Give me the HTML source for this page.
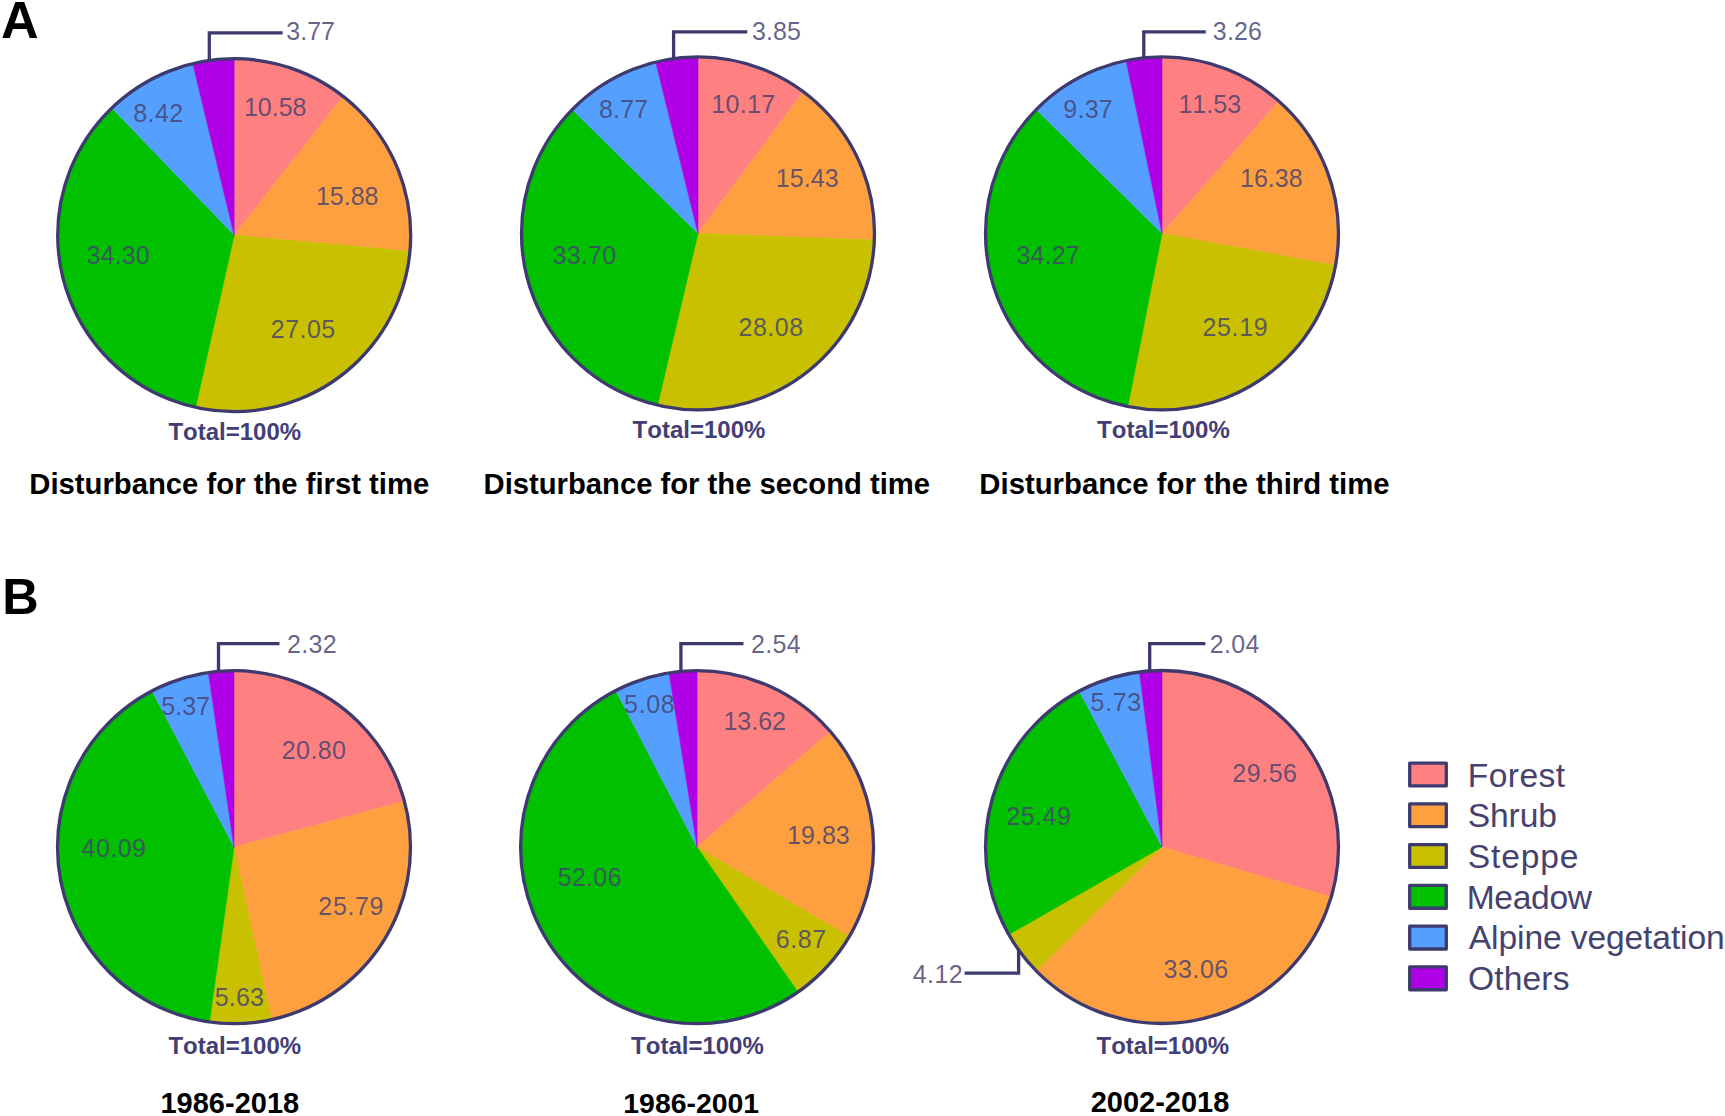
<!DOCTYPE html>
<html><head><meta charset="utf-8"><title>Figure</title>
<style>
html,body{margin:0;padding:0;background:#fff;}
body{width:1725px;height:1116px;overflow:hidden;}
svg{display:block;font-family:"Liberation Sans",sans-serif;font-kerning:none;}
.v{font-size:25px;fill:#45426f;fill-opacity:.82;}
.tot{font-size:24px;font-weight:bold;fill:#433e76;}
.ttl{font-weight:bold;fill:#000;}
.lg{font-size:33.6px;fill:#45426f;}
.pan{font-size:52px;font-weight:bold;fill:#000;}
.ld{fill:none;stroke:#3d3a70;stroke-width:3.3;}
</style></head><body>
<svg width="1725" height="1116" viewBox="0 0 1725 1116">
<rect width="1725" height="1116" fill="#fff"/>
<path d="M234.2,235.2L234.20,58.70A176.5,176.5 0 0 1 343.08,96.28Z" fill="#ff8080" stroke="#ff8080" stroke-width="0.6"/>
<path d="M234.2,235.2L343.08,96.28A176.5,176.5 0 0 1 409.96,251.37Z" fill="#ffa040" stroke="#ffa040" stroke-width="0.6"/>
<path d="M234.2,235.2L409.96,251.37A176.5,176.5 0 0 1 195.59,407.43Z" fill="#c8c000" stroke="#c8c000" stroke-width="0.6"/>
<path d="M234.2,235.2L195.59,407.43A176.5,176.5 0 0 1 111.85,107.99Z" fill="#00c000" stroke="#00c000" stroke-width="0.6"/>
<path d="M234.2,235.2L111.85,107.99A176.5,176.5 0 0 1 192.78,63.63Z" fill="#55a0ff" stroke="#55a0ff" stroke-width="0.6"/>
<path d="M234.2,235.2L192.78,63.63A176.5,176.5 0 0 1 234.20,58.70Z" fill="#b000e6" stroke="#b000e6" stroke-width="0.6"/>
<polyline class="ld" points="209.3,60 209.3,32.8 282.6,32.8"/>
<circle cx="234.2" cy="235.2" r="176.5" fill="none" stroke="#3d3a70" stroke-width="3.3"/>
<text x="243.89" y="116.4" class="v" letter-spacing="0.01">10.58</text>
<text x="315.96" y="204.6" class="v" letter-spacing="0.0">15.88</text>
<text x="270.74" y="337.5" class="v" letter-spacing="0.49">27.05</text>
<text x="86.45" y="263.8" class="v" letter-spacing="0.19">34.30</text>
<text x="133.32" y="121.5" class="v" letter-spacing="0.36">8.42</text>
<text x="286.37" y="40.0" class="v" letter-spacing="0.0">3.77</text>
<text x="168.42" y="439.9" class="tot">Total=100%</text>
<text x="29.26" y="494.1" class="ttl" font-size="29.28">Disturbance for the first time</text>
<path d="M698.0,233.4L698.00,56.90A176.5,176.5 0 0 1 803.26,91.72Z" fill="#ff8080" stroke="#ff8080" stroke-width="0.6"/>
<path d="M698.0,233.4L803.26,91.72A176.5,176.5 0 0 1 874.37,240.05Z" fill="#ffa040" stroke="#ffa040" stroke-width="0.6"/>
<path d="M698.0,233.4L874.37,240.05A176.5,176.5 0 0 1 657.55,405.20Z" fill="#c8c000" stroke="#c8c000" stroke-width="0.6"/>
<path d="M698.0,233.4L657.55,405.20A176.5,176.5 0 0 1 572.26,109.54Z" fill="#00c000" stroke="#00c000" stroke-width="0.6"/>
<path d="M698.0,233.4L572.26,109.54A176.5,176.5 0 0 1 655.72,62.04Z" fill="#55a0ff" stroke="#55a0ff" stroke-width="0.6"/>
<path d="M698.0,233.4L655.72,62.04A176.5,176.5 0 0 1 698.00,56.90Z" fill="#b000e6" stroke="#b000e6" stroke-width="0.6"/>
<polyline class="ld" points="673.6,58 673.6,31.9 747.3,31.9"/>
<circle cx="698.0" cy="233.4" r="176.5" fill="none" stroke="#3d3a70" stroke-width="3.3"/>
<text x="711.30" y="112.7" class="v" letter-spacing="0.3">10.17</text>
<text x="775.69" y="187.3" class="v" letter-spacing="0.09">15.43</text>
<text x="738.53" y="336.1" class="v" letter-spacing="0.5">28.08</text>
<text x="552.55" y="263.8" class="v" letter-spacing="0.24">33.70</text>
<text x="599.01" y="118.0" class="v" letter-spacing="0.2">8.77</text>
<text x="751.96" y="39.7" class="v" letter-spacing="0.11">3.85</text>
<text x="632.62" y="437.8" class="tot">Total=100%</text>
<text x="483.57" y="493.7" class="ttl" font-size="29.22">Disturbance for the second time</text>
<path d="M1162.0,233.4L1162.00,56.90A176.5,176.5 0 0 1 1278.97,101.23Z" fill="#ff8080" stroke="#ff8080" stroke-width="0.6"/>
<path d="M1162.0,233.4L1278.97,101.23A176.5,176.5 0 0 1 1335.56,265.49Z" fill="#ffa040" stroke="#ffa040" stroke-width="0.6"/>
<path d="M1162.0,233.4L1335.56,265.49A176.5,176.5 0 0 1 1127.84,406.56Z" fill="#c8c000" stroke="#c8c000" stroke-width="0.6"/>
<path d="M1162.0,233.4L1127.84,406.56A176.5,176.5 0 0 1 1036.18,109.62Z" fill="#00c000" stroke="#00c000" stroke-width="0.6"/>
<path d="M1162.0,233.4L1036.18,109.62A176.5,176.5 0 0 1 1126.10,60.59Z" fill="#55a0ff" stroke="#55a0ff" stroke-width="0.6"/>
<path d="M1162.0,233.4L1126.10,60.59A176.5,176.5 0 0 1 1162.00,56.90Z" fill="#b000e6" stroke="#b000e6" stroke-width="0.6"/>
<polyline class="ld" points="1143.8,58 1143.8,31.9 1205.8,31.9"/>
<circle cx="1162.0" cy="233.4" r="176.5" fill="none" stroke="#3d3a70" stroke-width="3.3"/>
<text x="1178.47" y="112.7" class="v" letter-spacing="0.0">11.53</text>
<text x="1240.06" y="187.3" class="v" letter-spacing="0.0">16.38</text>
<text x="1202.54" y="336.1" class="v" letter-spacing="0.62">25.19</text>
<text x="1016.55" y="263.8" class="v" letter-spacing="0.16">34.27</text>
<text x="1063.32" y="118.0" class="v" letter-spacing="0.26">9.37</text>
<text x="1212.85" y="39.7" class="v" letter-spacing="0.13">3.26</text>
<text x="1097.07" y="437.8" class="tot">Total=100%</text>
<text x="979.35" y="493.7" class="ttl" font-size="29.3">Disturbance for the third time</text>
<path d="M234.0,847.2L234.00,670.70A176.5,176.5 0 0 1 404.39,801.16Z" fill="#ff8080" stroke="#ff8080" stroke-width="0.6"/>
<path d="M234.0,847.2L404.39,801.16A176.5,176.5 0 0 1 271.53,1019.66Z" fill="#ffa040" stroke="#ffa040" stroke-width="0.6"/>
<path d="M234.0,847.2L271.53,1019.66A176.5,176.5 0 0 1 209.46,1021.99Z" fill="#c8c000" stroke="#c8c000" stroke-width="0.6"/>
<path d="M234.0,847.2L209.46,1021.99A176.5,176.5 0 0 1 152.00,690.91Z" fill="#00c000" stroke="#00c000" stroke-width="0.6"/>
<path d="M234.0,847.2L152.00,690.91A176.5,176.5 0 0 1 208.36,672.57Z" fill="#55a0ff" stroke="#55a0ff" stroke-width="0.6"/>
<path d="M234.0,847.2L208.36,672.57A176.5,176.5 0 0 1 234.00,670.70Z" fill="#b000e6" stroke="#b000e6" stroke-width="0.6"/>
<polyline class="ld" points="218.5,672 218.5,643.7 279.5,643.7"/>
<circle cx="234.0" cy="847.2" r="176.5" fill="none" stroke="#3d3a70" stroke-width="3.3"/>
<text x="281.84" y="759.0" class="v" letter-spacing="0.37">20.80</text>
<text x="318.33" y="914.5" class="v" letter-spacing="0.65">25.79</text>
<text x="214.80" y="1006.0" class="v" letter-spacing="0.15">5.63</text>
<text x="81.62" y="857.3" class="v" letter-spacing="0.45">40.09</text>
<text x="161.20" y="715.2" class="v" letter-spacing="0.1">5.37</text>
<text x="287.05" y="652.5" class="v" letter-spacing="0.35">2.32</text>
<text x="168.42" y="1054.0" class="tot">Total=100%</text>
<text x="160.49" y="1112.5" class="ttl" font-size="29.0">1986-2018</text>
<path d="M697.1,847.2L697.10,670.70A176.5,176.5 0 0 1 830.37,731.48Z" fill="#ff8080" stroke="#ff8080" stroke-width="0.6"/>
<path d="M697.1,847.2L830.37,731.48A176.5,176.5 0 0 1 849.30,936.57Z" fill="#ffa040" stroke="#ffa040" stroke-width="0.6"/>
<path d="M697.1,847.2L849.30,936.57A176.5,176.5 0 0 1 797.95,992.05Z" fill="#c8c000" stroke="#c8c000" stroke-width="0.6"/>
<path d="M697.1,847.2L797.95,992.05A176.5,176.5 0 1 1 615.79,690.55Z" fill="#00c000" stroke="#00c000" stroke-width="0.6"/>
<path d="M697.1,847.2L615.79,690.55A176.5,176.5 0 0 1 669.05,672.94Z" fill="#55a0ff" stroke="#55a0ff" stroke-width="0.6"/>
<path d="M697.1,847.2L669.05,672.94A176.5,176.5 0 0 1 697.10,670.70Z" fill="#b000e6" stroke="#b000e6" stroke-width="0.6"/>
<polyline class="ld" points="680.9,672 680.9,643.7 743.5,643.7"/>
<circle cx="697.1" cy="847.2" r="176.5" fill="none" stroke="#3d3a70" stroke-width="3.3"/>
<text x="723.40" y="730.4" class="v" letter-spacing="0.0">13.62</text>
<text x="787.10" y="843.6" class="v" letter-spacing="0.01">19.83</text>
<text x="775.63" y="948.0" class="v" letter-spacing="0.66">6.87</text>
<text x="557.71" y="885.9" class="v" letter-spacing="0.28">52.06</text>
<text x="624.10" y="712.7" class="v" letter-spacing="0.64">5.08</text>
<text x="751.04" y="652.5" class="v" letter-spacing="0.31">2.54</text>
<text x="631.07" y="1054.0" class="tot">Total=100%</text>
<text x="623.34" y="1112.6" class="ttl" font-size="28.4">1986-2001</text>
<path d="M1162.0,847.0L1162.00,670.50A176.5,176.5 0 0 1 1331.30,896.88Z" fill="#ff8080" stroke="#ff8080" stroke-width="0.6"/>
<path d="M1162.0,847.0L1331.30,896.88A176.5,176.5 0 0 1 1036.26,970.86Z" fill="#ffa040" stroke="#ffa040" stroke-width="0.6"/>
<path d="M1162.0,847.0L1036.26,970.86A176.5,176.5 0 0 1 1008.74,934.54Z" fill="#c8c000" stroke="#c8c000" stroke-width="0.6"/>
<path d="M1162.0,847.0L1008.74,934.54A176.5,176.5 0 0 1 1079.21,691.12Z" fill="#00c000" stroke="#00c000" stroke-width="0.6"/>
<path d="M1162.0,847.0L1079.21,691.12A176.5,176.5 0 0 1 1139.44,671.95Z" fill="#55a0ff" stroke="#55a0ff" stroke-width="0.6"/>
<path d="M1162.0,847.0L1139.44,671.95A176.5,176.5 0 0 1 1162.00,670.50Z" fill="#b000e6" stroke="#b000e6" stroke-width="0.6"/>
<polyline class="ld" points="1149.7,672 1149.7,643.7 1205.4,643.7"/>
<polyline class="ld" points="964.6,973.2 1018.6,973.2 1018.6,949"/>
<circle cx="1162.0" cy="847.0" r="176.5" fill="none" stroke="#3d3a70" stroke-width="3.3"/>
<text x="1232.35" y="781.6" class="v" letter-spacing="0.52">29.56</text>
<text x="1163.45" y="978.4" class="v" letter-spacing="0.57">33.06</text>
<text x="912.72" y="982.7" class="v" letter-spacing="0.46">4.12</text>
<text x="1006.24" y="825.4" class="v" letter-spacing="0.52">25.49</text>
<text x="1090.60" y="711.0" class="v" letter-spacing="0.65">5.73</text>
<text x="1209.84" y="652.5" class="v" letter-spacing="0.31">2.04</text>
<text x="1096.47" y="1054.0" class="tot">Total=100%</text>
<text x="1090.70" y="1112.1" class="ttl" font-size="29.0">2002-2018</text>
<rect x="1409.7" y="763.05" width="36.6" height="22.9" fill="#ff8080" stroke="#3d3a70" stroke-width="3.3" stroke-linejoin="round"/>
<text x="1467.73" y="786.6" class="lg" letter-spacing="0.44">Forest</text>
<rect x="1409.7" y="803.81" width="36.6" height="22.9" fill="#ffa040" stroke="#3d3a70" stroke-width="3.3" stroke-linejoin="round"/>
<text x="1467.77" y="827.2" class="lg" letter-spacing="-0.13">Shrub</text>
<rect x="1409.7" y="844.57" width="36.6" height="22.9" fill="#c8c000" stroke="#3d3a70" stroke-width="3.3" stroke-linejoin="round"/>
<text x="1467.76" y="867.8" class="lg" letter-spacing="0.87">Steppe</text>
<rect x="1409.7" y="885.33" width="36.6" height="22.9" fill="#00c000" stroke="#3d3a70" stroke-width="3.3" stroke-linejoin="round"/>
<text x="1466.63" y="908.5" class="lg" letter-spacing="-0.3">Meadow</text>
<rect x="1409.7" y="926.09" width="36.6" height="22.9" fill="#55a0ff" stroke="#3d3a70" stroke-width="3.3" stroke-linejoin="round"/>
<text x="1468.84" y="949.1" class="lg" letter-spacing="-0.11">Alpine vegetation</text>
<rect x="1409.7" y="966.85" width="36.6" height="22.9" fill="#b000e6" stroke="#3d3a70" stroke-width="3.3" stroke-linejoin="round"/>
<text x="1467.92" y="989.7" class="lg" letter-spacing="0.15">Others</text>
<text x="0.9" y="37.6" class="pan">A</text>
<text x="2.3" y="614.1" class="pan" style="font-size:50.5px">B</text>
</svg>
</body></html>
